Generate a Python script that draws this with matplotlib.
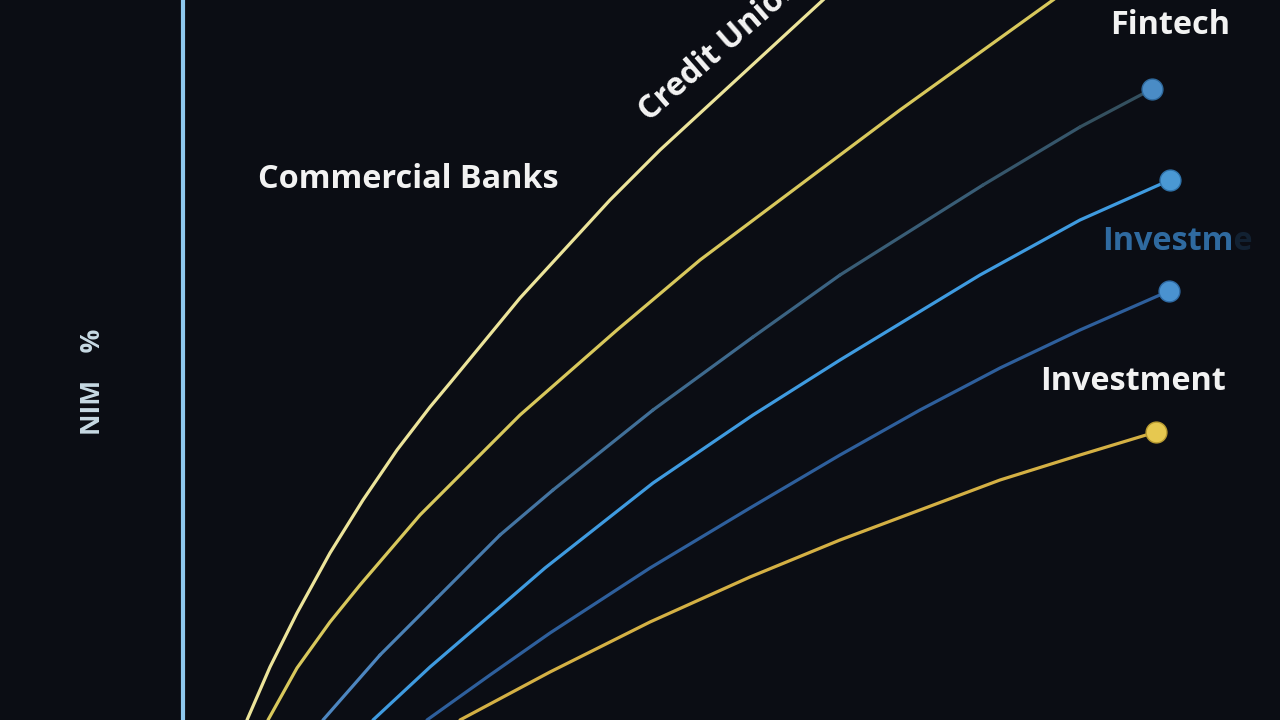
import matplotlib
matplotlib.use("Agg")
import matplotlib.pyplot as plt
from matplotlib.collections import LineCollection
from matplotlib.colors import LinearSegmentedColormap
import numpy as np

# ─────────────────────────────────────────
# Données
# ─────────────────────────────────────────
commercial_x = [0.64, 0.87, 1.14, 1.47, 1.80, 2.14, 2.47, 2.67, 3.37, 4.27, 4.77, 6.40, 6.97]
commercial_y = [0.00, 0.53, 1.07, 1.67, 2.20, 2.70, 3.13, 3.37, 4.22, 5.20, 5.70, 7.20, 7.72]

credit_x = [0.85, 1.14, 1.47, 1.77, 2.37, 3.37, 4.34, 5.17, 6.17, 7.17, 8.70, 9.47]
credit_y = [0.00, 0.52, 0.98, 1.35, 2.05, 3.05, 3.90, 4.60, 5.35, 6.10, 7.20, 7.75]

fintech_x = [1.40, 1.97, 2.54, 3.17, 3.70, 4.70, 5.70, 6.57, 8.00, 8.97, 9.69]
fintech_y = [0.00, 0.65, 1.22, 1.85, 2.30, 3.10, 3.83, 4.45, 5.35, 5.93, 6.31]

invest_a_x = [1.90, 2.47, 3.25, 3.62, 4.70, 5.70, 6.57, 7.97, 8.97, 9.87]
invest_a_y = [0.00, 0.53, 1.20, 1.52, 2.37, 3.05, 3.60, 4.45, 5.00, 5.40]

invest_b_x = [2.44, 3.07, 3.67, 4.67, 5.67, 6.57, 7.37, 8.17, 8.97, 9.86]
invest_b_y = [0.00, 0.45, 0.87, 1.52, 2.12, 2.65, 3.10, 3.52, 3.90, 4.29]

invest_c_x = [2.77, 3.67, 4.67, 5.67, 6.57, 7.37, 8.17, 8.97, 9.73]
invest_c_y = [0.00, 0.48, 0.98, 1.43, 1.80, 2.10, 2.40, 2.65, 2.88]

BG = "#0b0d14"

# ─────────────────────────────────────────
# Figure
# ─────────────────────────────────────────
fig = plt.figure(figsize=(12.8, 7.2), dpi=100, facecolor=BG)
ax = fig.add_axes([0, 0, 1, 1])
ax.set_facecolor(BG)
ax.set_xlim(-1.83, 10.97)
ax.set_ylim(0, 7.2)
ax.axis("off")

# axe vertical
ax.axvline(0, color="#8ec8ee", linewidth=3, zorder=2)

lw = 2.3
ax.plot(commercial_x, commercial_y, color="#ece49a", linewidth=lw,
        solid_capstyle="round", solid_joinstyle="round")
ax.plot(credit_x, credit_y, color="#d8c85c", linewidth=lw,
        solid_capstyle="round", solid_joinstyle="round")

# Fintech : dégradé bleu -> gris
pts = np.array([fintech_x, fintech_y]).T.reshape(-1, 1, 2)
segs = np.concatenate([pts[:-1], pts[1:]], axis=1)
cmap = LinearSegmentedColormap.from_list("fin", ["#4d86c0", "#3f6d94", "#34505f"])
lc = LineCollection(segs, cmap=cmap, linewidth=lw, capstyle="round", joinstyle="round")
lc.set_array(np.linspace(0, 1, len(segs)))
ax.add_collection(lc)
ax.plot(fintech_x[-1], fintech_y[-1], "o", color="#4a8cc6", markersize=15,
        markeredgecolor="#2f6a9e", markeredgewidth=1, zorder=5)

ax.plot(invest_a_x, invest_a_y, color="#3f9be0", linewidth=lw,
        solid_capstyle="round", solid_joinstyle="round")
ax.plot(invest_a_x[-1], invest_a_y[-1], "o", color="#4a98d4", markersize=15,
        markeredgecolor="#2f72aa", markeredgewidth=1, zorder=5)

ax.plot(invest_b_x, invest_b_y, color="#2e5f9c", linewidth=lw,
        solid_capstyle="round", solid_joinstyle="round")
ax.plot(invest_b_x[-1], invest_b_y[-1], "o", color="#4a92d0", markersize=15,
        markeredgecolor="#2f6aa4", markeredgewidth=1, zorder=5)

ax.plot(invest_c_x, invest_c_y, color="#d4b044", linewidth=lw,
        solid_capstyle="round", solid_joinstyle="round")
ax.plot(invest_c_x[-1], invest_c_y[-1], "o", color="#e6c850", markersize=15,
        markeredgecolor="#b89a30", markeredgewidth=1, zorder=5)

# ─────────────────────────────────────────
# Textes
# ─────────────────────────────────────────
font = dict(family="Open Sans", fontweight="bold")
fs = 23.3

ax.text(-0.91, 3.38, "NIM    %", rotation=90, color="#c8dae4", fontsize=19,
        ha="center", va="center", **font)
ax.text(0.75, 5.40, "Commercial Banks", color="#f2f2f2", fontsize=fs,
        ha="left", va="center", **font)
ax.text(4.66, 5.98, "Credit Unions", color="#f4f4f4", fontsize=fs, rotation=41,
        rotation_mode="anchor", ha="left", va="baseline", **font)
ax.text(9.27, 6.94, "Fintech", color="#f2f2f2", fontsize=fs,
        ha="left", va="center", **font)

# label bleu qui s'efface vers la droite
for alpha, right in [(0.22, 10.72), (1.0, 10.50)]:
    t = ax.text(9.19, 4.78, "Investment", color="#2f6aa0", fontsize=fs, alpha=alpha,
                ha="left", va="center", clip_on=True, **font)
    t.set_clip_path(plt.Rectangle((9.0, 4.35), right - 9.0, 0.9, transform=ax.transData))

ax.text(8.57, 3.38, "Investment", color="#f2f2f2", fontsize=fs,
        ha="left", va="center", **font)

fig.savefig("out.png", dpi=100, facecolor=BG)
